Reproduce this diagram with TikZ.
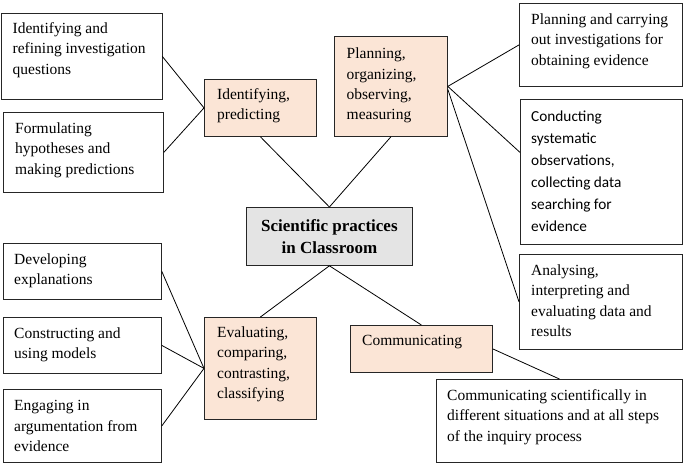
\documentclass[tikz,border=0pt]{standalone}
\usepackage{fontspec}
\setmainfont{Liberation Serif}
\newfontfamily\carlito{Carlito}
\definecolor{peach}{HTML}{FBE5D6}
\definecolor{cgray}{HTML}{E4E4E4}
\begin{document}
\begin{tikzpicture}[x=1pt,y=-1pt,
  box/.style={draw=black!85, line width=0.8pt, anchor=north west, inner sep=0pt},
  hub/.style={box, fill=peach},
  txt/.style={anchor=north west, inner sep=0pt, align=left, font=\fontsize{15.5}{20.3}\selectfont},
  link/.style={line width=0.8pt}]
\useasboundingbox (0,0) rectangle (685,463);
% boxes
\node[box, minimum width=161pt, minimum height=86pt] (qa) at (0.5,13) {};
\node[box, minimum width=160pt, minimum height=80pt] (qb) at (3,112) {};
\node[hub, minimum width=112pt, minimum height=57pt] (ip) at (204,79) {};
\node[hub, minimum width=113pt, minimum height=100pt] (pl) at (334,36) {};
\node[box, minimum width=163pt, minimum height=83pt] (pc) at (519,3) {};
\node[box, minimum width=162pt, minimum height=145pt] (cd) at (520,99) {};
\node[box, minimum width=163pt, minimum height=95pt] (an) at (519,254) {};
\node[box, fill=cgray, minimum width=166pt, minimum height=58pt] (sc) at (246,207) {};
\node[box, minimum width=158pt, minimum height=56pt] (dv) at (3,243) {};
\node[box, minimum width=158pt, minimum height=56pt] (cm) at (3,317) {};
\node[box, minimum width=158pt, minimum height=73pt] (eg) at (3,389) {};
\node[hub, minimum width=112pt, minimum height=102pt] (ev) at (204,317) {};
\node[hub, minimum width=142pt, minimum height=47pt] (co) at (350,325) {};
\node[box, minimum width=246pt, minimum height=83pt] (cs) at (436,379) {};
% texts
\node[txt] (qat) at ([shift={(12,9.5)}]qa.north west) {Identifying and\\refining investigation\\questions};
\node[txt] (qbt) at ([shift={(12,10.5)}]qb.north west) {Formulating\\hypotheses and\\making predictions};
\node[txt] (ipt) at ([shift={(13,9.5)}]ip.north west) {Identifying,\\predicting};
\node[txt] (plt) at ([shift={(12.5,12)}]pl.north west) {Planning,\\organizing,\\observing,\\measuring};
\node[txt] (pct) at ([shift={(12,10.5)}]pc.north west) {Planning and carrying\\out investigations for\\obtaining evidence};
\node[txt, font=\carlito\fontsize{15.3}{21.9}\selectfont] (cdt) at ([shift={(11,12)}]cd.north west) {Conducting\\systematic\\observations,\\collecting data\\searching for\\evidence};
\node[txt] (ant) at ([shift={(12,10.5)}]an.north west) {Analysing,\\interpreting and\\evaluating data and\\results};
\node[font=\bfseries\fontsize{17}{21.7}\selectfont, align=center, inner sep=0pt] (sct) at (sc.center) {Scientific practices\\in Classroom};
\node[txt] (dvt) at ([shift={(11,10.5)}]dv.north west) {Developing\\explanations};
\node[txt] (cmt) at ([shift={(11,10.5)}]cm.north west) {Constructing and\\using models};
\node[txt] (egt) at ([shift={(11,11.5)}]eg.north west) {Engaging in\\argumentation from\\evidence};
\node[txt] (evt) at ([shift={(13,9.5)}]ev.north west) {Evaluating,\\comparing,\\contrasting,\\classifying};
\node[txt] (cot) at ([shift={(12,10.5)}]co.north west) {Communicating};
\node[txt] (cst) at ([shift={(11,10.5)}]cs.north west) {Communicating scientifically in\\different situations and at all steps\\of the inquiry process};
% connectors
\draw[link] (qa.east) -- (ip.west);
\draw[link] (qb.east) -- (ip.west);
\draw[link] (ip.south) -- (sc.north);
\draw[link] (pl.south) -- (sc.north);
\draw[link] (pl.east) -- (pc.west);
\draw[link] (pl.east) -- ([yshift=19.5pt]cd.west);
\draw[link] ([yshift=-3pt]pl.east) -- (an.west);
\draw[link] (dv.east) -- (ev.west);
\draw[link] (cm.east) -- (ev.west);
\draw[link] (eg.east) -- (ev.west);
\draw[link] (sc.south) -- (ev.north);
\draw[link] (sc.south) -- (co.north);
\draw[link] (co.east) -- (cs.north);
\end{tikzpicture}
\end{document}
